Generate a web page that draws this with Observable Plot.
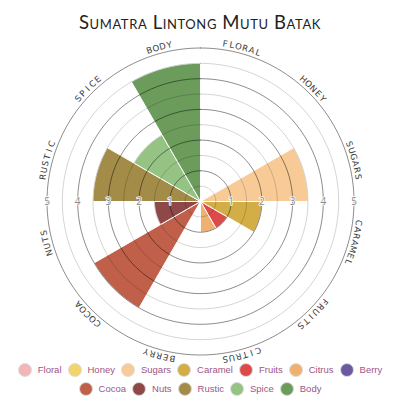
<!DOCTYPE html>
<html>
<head>
<meta charset="utf-8">
<script src="https://cdn.jsdelivr.net/npm/d3@7"></script>
<script src="https://cdn.jsdelivr.net/npm/@observablehq/plot@0.6"></script>
<style>
  html, body { margin: 0; padding: 0; background: #fff; }
  #title { height: 38px; text-align: center; font-family: Lato, "Open Sans", sans-serif; font-variant: small-caps; font-size: 18.5px; line-height: 44px; color: #222; letter-spacing: 0.6px; }
  #chart svg { display: block; overflow: visible; }
  #legend { margin-top: -4px; font-family: "Liberation Sans", Arial, sans-serif; font-size: 9.5px; color: #9e5585; }
  .row { display: flex; justify-content: center; height: 19px; align-items: center; }
  .item { display: flex; align-items: center; margin: 0 3px; }
  .dot { width: 12px; height: 12px; border-radius: 50%; border: 1px solid #ddd; margin-right: 6px; }
</style>
</head>
<body>
<div id="title">Sumatra Lintong Mutu Batak</div>
<div id="chart"></div>
<div id="legend"></div>
<script>
const title = "Sumatra Lintong Mutu Batak";
const categories = ["Floral","Honey","Sugars","Caramel","Fruits","Citrus","Berry","Cocoa","Nuts","Rustic","Spice","Body"];
const values = [0, 0, 3.5, 2, 1, 1, 0, 4, 1.5, 3.5, 2.5, 4.5];
const colors = ["#f2b6b7","#f2d46a","#f8ca96","#d3ae47","#dd4a4a","#eeb16f","#6c5aa0","#c0604a","#8f4848","#a38b48","#95c383","#6b9c5b"];
const ticks = [1, 2, 3, 4, 5];
const legendRows = [7, 5];

const k = 30.7;           // px per unit
const W = 400, H = 326;
const step = 360 / categories.length;
const rad = a => a * Math.PI / 180;

// wedge outlines (center -> arc -> center), derived from values
const wedges = [];
categories.forEach((c, i) => {
  const v = values[i];
  if (!(v > 0)) return;
  wedges.push({cat: c, x: 0, y: 0});
  for (let a = i * step; a <= (i + 1) * step + 1e-9; a += 1) {
    wedges.push({cat: c, x: v * Math.sin(rad(a)), y: v * Math.cos(rad(a))});
  }
  wedges.push({cat: c, x: 0, y: 0});
});

// grid rings
const rings = [];
for (let r = 0.5; r <= 5 + 1e-9; r += 0.5) {
  for (let a = 0; a <= 360; a += 2) {
    rings.push({r, major: Math.abs(r - Math.round(r)) < 1e-9, x: r * Math.sin(rad(a)), y: r * Math.cos(rad(a))});
  }
}

// curved category labels, one letter at a time
const labelRpx = 159.5;
const labelR = labelRpx / k;
const pitch = 6.8 / labelRpx * 180 / Math.PI;
const letters = [];
categories.forEach((c, i) => {
  const s = c.toUpperCase();
  const mid = (i + 0.5) * step;
  for (let j = 0; j < s.length; j++) {
    const a = mid + (j - (s.length - 1) / 2) * pitch;
    letters.push({ch: s[j], x: labelR * Math.sin(rad(a)), y: labelR * Math.cos(rad(a)), rotate: a});
  }
});

const plot = Plot.plot({
  width: W,
  height: H,
  margin: 0,
  x: {domain: [-W / 2 / k, W / 2 / k], axis: null},
  y: {domain: [-H / 2 / k, H / 2 / k], axis: null},
  color: {domain: categories, range: colors},
  style: {background: "transparent"},
  marks: [
    Plot.line(wedges, {x: "x", y: "y", z: "cat", fill: "cat", stroke: "white", strokeWidth: 1, curve: "linear"}),
    Plot.line(rings.filter(d => !d.major), {x: "x", y: "y", z: "r", stroke: "#000", strokeOpacity: 0.17, strokeWidth: 1}),
    Plot.line(rings.filter(d => d.major), {x: "x", y: "y", z: "r", stroke: "#000", strokeOpacity: 0.45, strokeWidth: 1}),
    Plot.text(ticks, {x: d => d, y: 0, text: d => String(d), fill: "#8a8a8a", stroke: "white", strokeWidth: 1.5, fontSize: 10, fontFamily: "Open Sans, sans-serif"}),
    Plot.text(ticks, {x: d => -d, y: 0, text: d => String(d), fill: "#8a8a8a", stroke: "white", strokeWidth: 1.5, fontSize: 10, fontFamily: "Open Sans, sans-serif"}),
    Plot.text(letters, {x: "x", y: "y", text: "ch", rotate: "rotate", fill: "#3a3a3a", fontSize: 8.5, fontFamily: "DejaVu Sans, sans-serif"})
  ]
});
document.getElementById("chart").appendChild(plot);

// legend
const legend = d3.select("#legend");
let idx = 0;
legendRows.forEach(n => {
  const row = legend.append("div").attr("class", "row");
  categories.slice(idx, idx + n).forEach((c, j) => {
    const item = row.append("div").attr("class", "item");
    item.append("div").attr("class", "dot").style("background", colors[idx + j]);
    item.append("span").text(c);
  });
  idx += n;
});
</script>
</body>
</html>
